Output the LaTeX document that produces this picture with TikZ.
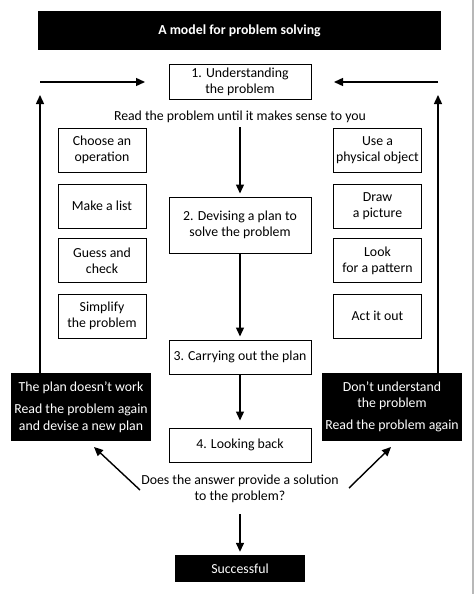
\documentclass[tikz,border=0pt]{standalone}
\usepackage{fontspec}
\setmainfont{Carlito}
\usetikzlibrary{arrows.meta, positioning}
\definecolor{edgegray}{rgb}{0.72, 0.72, 0.72}

\begin{document}
\begin{tikzpicture}[x=1pt, y=-1pt,
    font=\fontsize{13.8}{16.3}\selectfont,
    stepbox/.style={draw=black, line width=1pt, align=center, inner sep=0pt,
      minimum width=142pt, minimum height=34pt},
    toolbox/.style={draw=black, line width=1pt, align=center, inner sep=0pt,
      minimum width=88pt, minimum height=44pt},
    blackbox/.style={fill=black, text=white, align=center, inner sep=0pt},
    flow/.style={line width=1.4pt, -{Triangle[length=9pt, width=8pt]}}]
  \useasboundingbox (0,0) rectangle (474,594);
  \fill[edgegray] (471.5,0) rectangle (474,594);
  % title
  \node[blackbox, minimum width=403pt, minimum height=39pt, font=\fontsize{13.8}{16}\selectfont\bfseries]
    (title) at (239.5,30.5) {A model for problem solving};
  % the four steps
  \node[stepbox] (under) at (240,82) {1. Understanding\\the problem};
  \node (readtxt) at (240,117) {Read the problem until it makes sense to you};
  \node[stepbox, minimum height=56pt] (devise) at (240,225) {2. Devising a plan to\\solve the problem};
  \node[stepbox] (carry) at (240,357) {3. Carrying out the plan};
  \node[stepbox] (lookback) at (240,445) {4. Looking back};
  \node[align=center] (question) at (240,488.5) {Does the answer provide a solution\\to the problem?};
  \node[blackbox, minimum width=130pt, minimum height=27pt] (success) at (240,568.5) {Successful};
  % strategies
  \node[toolbox] (choose) at (102,150) {Choose an\\operation};
  \node[toolbox] (list) at (102,206) {Make a list};
  \node[toolbox] (guess) at (102,260.5) {Guess and\\check};
  \node[toolbox] (simplify) at (102,316) {Simplify\\the problem};
  \node[toolbox] (object) at (377.5,150) {Use a\\physical object};
  \node[toolbox] (picture) at (377.5,206) {Draw\\a picture};
  \node[toolbox] (pattern) at (377.5,260.5) {Look\\for a pattern};
  \node[toolbox] (actout) at (377.5,316) {Act it out};
  % failures
  \node[blackbox, minimum width=140pt, minimum height=68pt] (nowork) at (81,407)
    {The plan doesn’t work\\[6pt]Read the problem again\\and devise a new plan};
  \node[blackbox, minimum width=140pt, minimum height=68pt] (nosense) at (392,407)
    {Don’t understand\\the problem\\[6pt]Read the problem again};
  % loop back
  \coordinate (lbase) at (40,373);
  \coordinate (ltip) at (40,95);
  \coordinate (lfrom) at (40,82);
  \coordinate (lto) at (145,82);
  \coordinate (rbase) at (438,373);
  \coordinate (rtip) at (438,95);
  \coordinate (rfrom) at (438,82);
  \coordinate (rto) at (334,82);
  \coordinate (qleft) at (140,490);
  \coordinate (qlefttip) at (94,447);
  \coordinate (qright) at (349,488);
  \coordinate (qrighttip) at (391,447);
  % connectors
  \draw[flow] (lbase) -- (ltip);
  \draw[flow] (lfrom) -- (lto);
  \draw[flow] (rbase) -- (rtip);
  \draw[flow] (rfrom) -- (rto);
  \draw[flow, shorten <=1pt, shorten >=3pt] (readtxt) -- (devise);
  \draw[flow, shorten >=3pt] (devise) -- (carry);
  \draw[flow, shorten >=7pt] (carry) -- (lookback);
  \draw[flow, shorten <=8pt, shorten >=3pt] (question) -- (success);
  \draw[flow] (qleft) -- (qlefttip);
  \draw[flow] (qright) -- (qrighttip);
\end{tikzpicture}
\end{document}
